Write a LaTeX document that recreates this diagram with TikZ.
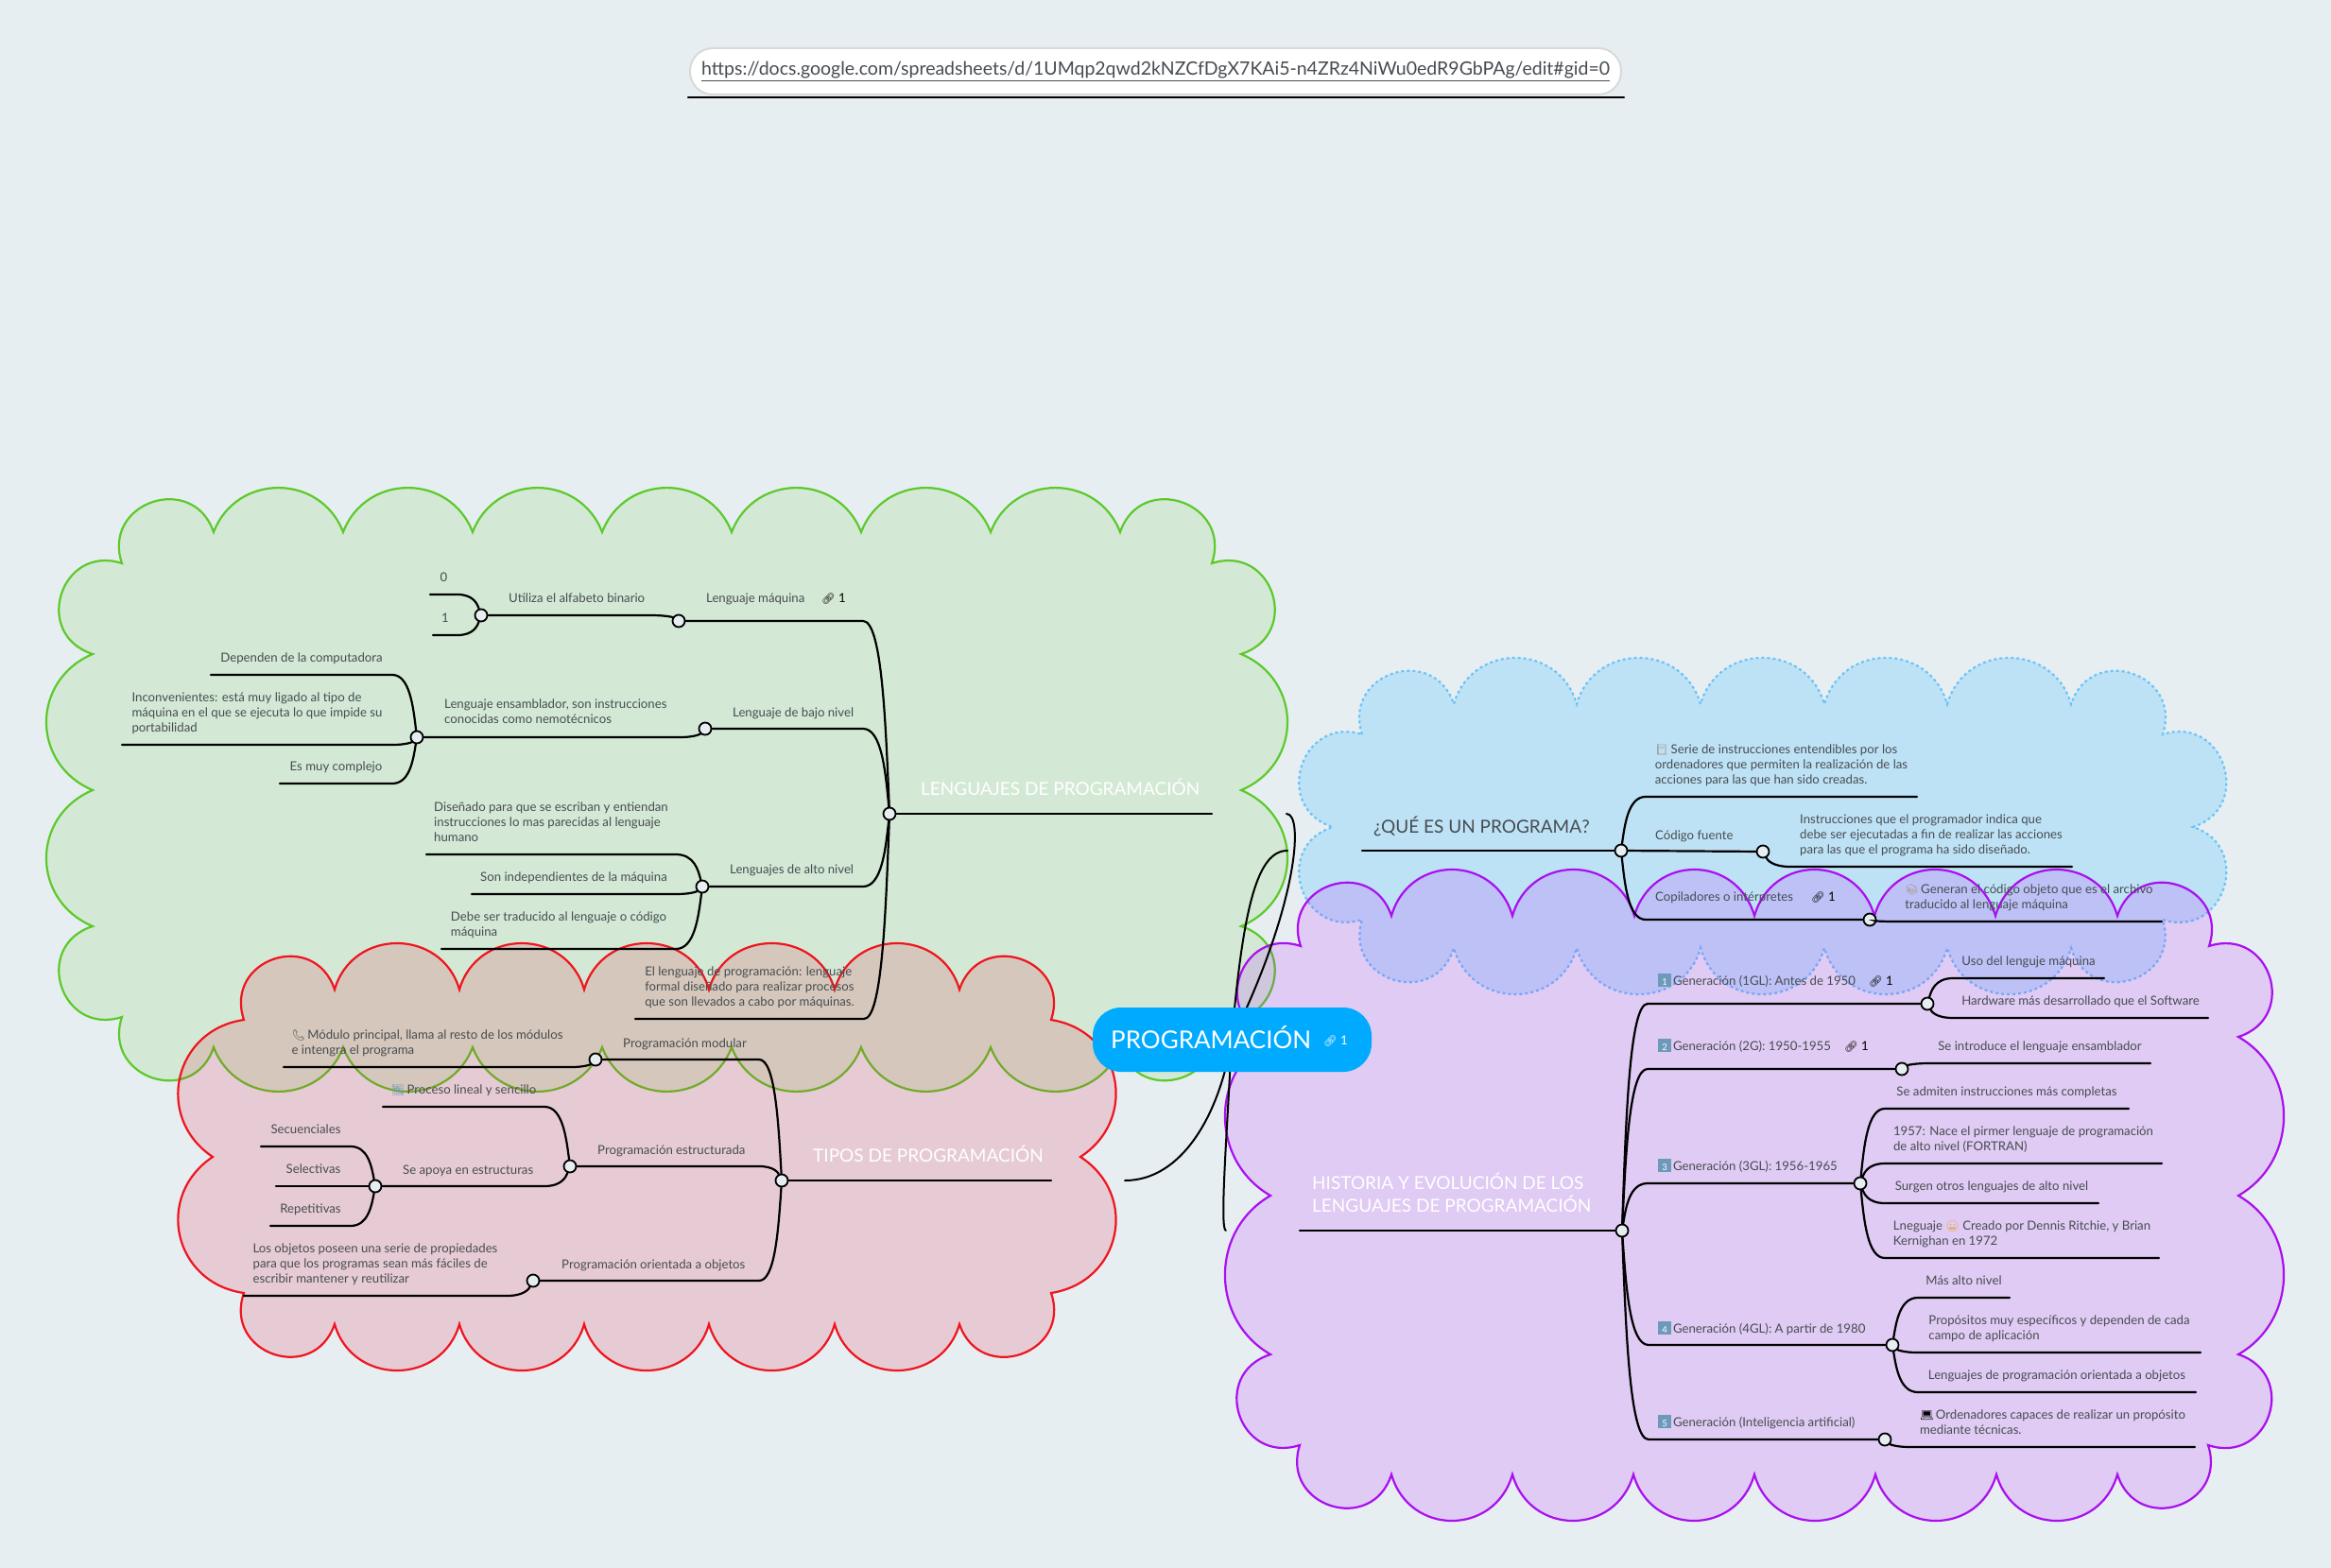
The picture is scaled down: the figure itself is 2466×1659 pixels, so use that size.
\documentclass[tikz,border=0pt]{standalone}
\usepackage{fontspec}
\setmainfont{Lato}
\newfontfamily\emojifont{Noto Emoji}
\usetikzlibrary{calc}

\definecolor{bgcol}{HTML}{E6EEF2}
\definecolor{inkcol}{HTML}{474C52}
\definecolor{greencol}{HTML}{5DC92A}
\definecolor{greenfill}{HTML}{67D331}
\definecolor{redcol}{HTML}{F0141E}
\definecolor{redfill}{HTML}{E6052B}
\definecolor{bluecol}{HTML}{6CC4F8}
\definecolor{bluefill}{HTML}{64C9FF}
\definecolor{purplecol}{HTML}{AA0FF0}
\definecolor{purplefill}{HTML}{B905FF}
\definecolor{centercol}{HTML}{00AAFF}
\definecolor{keycol}{HTML}{6E9ABA}
\definecolor{facecol}{HTML}{E8A02D}
\definecolor{tancol}{HTML}{A89F94}

\setlength{\fboxsep}{1.6pt}
\newcommand{\keycap}[1]{\colorbox{keycol}{\makebox[10.4pt]{\rule{0pt}{10pt}\fontsize{9.5}{9.5}\selectfont\color{white}#1}}}
\newcommand{\emo}[2][inkcol]{{\fontsize{11.5}{11.5}\emojifont\color{#1}#2}}
\newcommand{\chain}{\emo[black]{🔗}}

\tikzset{
    x=1pt, y=-1pt,
    link/.style={draw=black, line width=2.2pt, line cap=round},
    hook/.style={to path={.. controls ($(\tikztostart |- \tikztotarget)!.3!(\tikztotarget)!.5!(\tikztostart)$) and ($(\tikztostart |- \tikztotarget)!.3!(\tikztotarget)$) .. (\tikztotarget)}},
    dot/.style={circle, draw=black, fill=bgcol, line width=1.8pt, inner sep=0pt, minimum size=13pt},
    label/.style={anchor=base west, inner sep=0pt, text=inkcol, align=left, font=\fontsize{13.2}{16}\selectfont},
    leaf/.style={anchor=south west, inner xsep=0pt, inner ysep=0pt, outer sep=0pt, text depth=14pt, text=inkcol, align=left, font=\fontsize{13.2}{16}\selectfont},
    count/.style={label, text=black},
    title/.style={anchor=base west, inner sep=0pt, text=white, align=left, font=\fontsize{19}{24}\selectfont},
    puffmid/.style={bend left=69, distance=67pt},
    puffnar/.style={bend left=74, distance=68pt},
    puffwide/.style={bend left=67, distance=71pt},
    puffred/.style={bend left=69, distance=75pt},
    puffflat/.style={bend left=60, distance=74pt},
    puffend/.style={bend left=90, distance=68pt},
    cloudline/.style={line width=2.2pt, fill opacity=.15}
}

\begin{document}
\begin{tikzpicture}
    \useasboundingbox (0,0) rectangle (2466,1659);
    \fill[bgcol] (0,0) rectangle (2466,1659);

    % clouds
    \draw[cloudline, draw=greencol, fill=greenfill] (129,596)
        to[puffend] (226,563) to[puffmid] (363,563) to[puffmid] (500,563) to[puffmid] (637,563)
        to[puffmid] (774,563) to[puffmid] (911,563) to[puffmid] (1048,563) to[puffmid] (1185,563)
        to[puffend] (1282,596) to[puffend] (1313,692) to[puffwide] (1313,836) to[puffwide] (1313,980)
        to[puffend] (1282,1076) to[puffend] (1185,1108) to[puffmid] (1048,1108) to[puffmid] (911,1108)
        to[puffmid] (774,1108) to[puffmid] (637,1108) to[puffmid] (500,1108) to[puffmid] (363,1108)
        to[puffmid] (226,1108) to[puffend] (129,1076) to[puffend] (98,980) to[puffwide] (98,836)
        to[puffwide] (98,692) to[puffend] (129,596) -- cycle;
    \draw[cloudline, draw=redcol, fill=redfill] (258,1079)
        to[puffend] (354,1047) to[puffnar] (486,1047) to[puffnar] (618,1047) to[puffnar] (750,1047)
        to[puffnar] (883,1047) to[puffnar] (1015,1047) to[puffend] (1112,1079) to[puffred] (1143,1224)
        to[puffred] (1112,1368) to[puffend] (1015,1401) to[puffnar] (883,1401) to[puffnar] (750,1401)
        to[puffnar] (618,1401) to[puffnar] (486,1401) to[puffnar] (354,1401) to[puffend] (258,1368)
        to[puffred] (225,1224) to[puffred] (258,1079) -- cycle;
    \draw[cloudline, draw=bluecol, fill=bluefill, fill opacity=.3, dashed] (1441,777)
        to[puffend] (1538,745) to[puffnar] (1668,745) to[puffnar] (1799,745) to[puffnar] (1930,745)
        to[puffnar] (2060,745) to[puffnar] (2191,745) to[puffend] (2288,777) to[puffend] (2320,875)
        to[puffend] (2288,973) to[puffend] (2191,1003) to[puffnar] (2060,1003) to[puffnar] (1930,1003)
        to[puffnar] (1799,1003) to[puffnar] (1668,1003) to[puffnar] (1538,1003) to[puffend] (1441,973)
        to[puffend] (1410,875) to[puffend] (1441,777) -- cycle;
    \draw[cloudline, draw=purplecol, fill=purplefill] (1376,1001)
        to[puffend] (1472,969) to[puffnar] (1600,969) to[puffnar] (1729,969) to[puffnar] (1856,969)
        to[puffnar] (1983,969) to[puffnar] (2111,969) to[puffnar] (2240,969) to[puffend] (2337,1001)
        to[puffend] (2368,1097) to[puffflat] (2368,1265) to[puffflat] (2368,1433) to[puffend] (2336,1529)
        to[puffend] (2240,1560) to[puffnar] (2112,1560) to[puffnar] (1984,1560) to[puffnar] (1856,1560)
        to[puffnar] (1728,1560) to[puffnar] (1600,1560) to[puffnar] (1472,1560) to[puffend] (1375,1529)
        to[puffend] (1344,1433) to[puffflat] (1344,1265) to[puffflat] (1344,1097) to[puffend] (1376,1001) -- cycle;

    % link at the top
    \node[draw=black!15, fill=white, line width=2pt, rounded corners=24pt, minimum width=985pt, minimum height=49pt, inner sep=0pt,
        text=inkcol, font=\fontsize{19.5}{19.5}\selectfont] (url) at (1222.5,75.5)
        {\raisebox{-5pt}{\underline{https://docs.google.com/spreadsheets/d/1UMqp2qwd2kNZCfDgX7KAi5-n4ZRz4NiWu0edR9GbPAg/edit\#gid=0}}};
    \coordinate (url_l) at (728,103);
    \coordinate (url_r) at (1718,103);
    \draw[link] (url_l) -- (url_r);

    % lenguajes
    \node[dot] (j_len) at (941,861) {};
    \node[dot] (j_maq) at (718,657) {};
    \node[dot] (j_alf) at (509,651) {};
    \node[dot] (j_baj) at (746,771) {};
    \node[dot] (j_ens) at (441,780) {};
    \node[dot] (j_alt) at (743,938) {};

    \node[title] (t_len) at (974,841) {LENGUAJES DE PROGRAMACIÓN};
    \node[label] (t_maq) at (747,637) {Lenguaje máquina};
    \node[count] (i_maq) at (869,637) {\chain\ 1};
    \node[label] (t_alf) at (538,637) {Utiliza el alfabeto binario};
    \node[label] (t_baj) at (775,758) {Lenguaje de bajo nivel};
    \node[label] (t_ens) at (470,765) {Lenguaje ensamblador, son instrucciones\\conocidas como nemotécnicos};
    \node[label] (t_alt) at (772,924) {Lenguajes de alto nivel};

    \node[leaf, minimum width=29pt] (l_cero) at (455,629) {0};
    \node[leaf, minimum width=26pt] (l_uno) at (458,672) {1};
    \node[leaf, minimum width=192pt] (l_dep) at (223,714) {Dependen de la computadora};
    \node[leaf, minimum width=286pt] (l_inc) at (129,788) {Inconvenientes: está muy ligado al tipo de\\máquina en el que se ejecuta lo que impide su\\portabilidad};
    \node[leaf, minimum width=119pt] (l_com) at (296,829) {Es muy complejo};
    \node[leaf, minimum width=264pt] (l_dis) at (451,904) {Diseñado para que se escriban y entiendan\\instrucciones lo mas parecidas al lenguaje\\humano};
    \node[leaf, minimum width=216pt] (l_ind) at (499,946) {Son independientes de la máquina};
    \node[leaf, minimum width=248pt] (l_tra) at (467,1004) {Debe ser traducido al lenguaje o código\\máquina};
    \node[leaf, minimum width=242pt] (l_form) at (672,1078) {El lenguaje de programación: lenguaje\\formal diseñado para realizar procesos\\que son llevados a cabo por máquinas.};

    \coordinate (e_len) at (1282,861);
    \coordinate (b_maq) at (913,657);
    \coordinate (b_alf) at (688,651);
    \coordinate (b_baj) at (913,771);
    \coordinate (b_ens) at (719,780);
    \coordinate (b_alt) at (913,938);

    \draw[link] (j_len) -- (e_len);
    \draw[link] (j_len) to[hook] (b_maq) -- (j_maq);
    \draw[link] (j_maq) to[hook] (b_alf) -- (j_alf);
    \draw[link] (j_alf) to[hook] (l_cero.south east) -- (l_cero.south west);
    \draw[link] (j_alf) to[hook] (l_uno.south east) -- (l_uno.south west);
    \draw[link] (j_len) to[hook] (b_baj) -- (j_baj);
    \draw[link] (j_baj) to[hook] (b_ens) -- (j_ens);
    \draw[link] (j_ens) to[hook] (l_dep.south east) -- (l_dep.south west);
    \draw[link] (j_ens) to[hook] (l_inc.south east) -- (l_inc.south west);
    \draw[link] (j_ens) to[hook] (l_com.south east) -- (l_com.south west);
    \draw[link] (j_len) to[hook] (b_alt) -- (j_alt);
    \draw[link] (j_alt) to[hook] (l_dis.south east) -- (l_dis.south west);
    \draw[link] (j_alt) to[hook] (l_ind.south east) -- (l_ind.south west);
    \draw[link] (j_alt) to[hook] (l_tra.south east) -- (l_tra.south west);
    \draw[link] (j_len) to[hook] (l_form.south east) -- (l_form.south west);

    % tipos
    \node[dot] (j_tip) at (827,1249) {};
    \node[dot] (j_mod) at (630,1121) {};
    \node[dot] (j_est) at (603,1234) {};
    \node[dot] (j_apo) at (397,1255) {};
    \node[dot] (j_obj) at (564,1355) {};

    \node[title] (t_tip) at (860,1229) {TIPOS DE PROGRAMACIÓN};
    \node[label] (t_mod) at (659,1108) {Programación modular};
    \node[label] (t_est) at (632,1221) {Programación estructurada};
    \node[label] (t_apo) at (426,1242) {Se apoya en estructuras};
    \node[label] (t_obj) at (594,1342) {Programación orientada a objetos};

    \node[leaf, minimum width=304pt] (l_pri) at (300,1129) {\emo{📞}\,Módulo principal, llama al resto de los módulos\\e intengra el programa};
    \node[leaf, minimum width=171pt] (l_lin) at (405,1171) {\emo[keycol]{📉}\,Proceso lineal y sencillo};
    \node[leaf, minimum width=95pt] (l_sec) at (276,1213) {Secuenciales};
    \node[leaf, minimum width=79pt] (l_sel) at (292,1255) {Selectivas};
    \node[leaf, minimum width=85pt] (l_rep) at (286,1297) {Repetitivas};
    \node[leaf, minimum width=278pt] (l_pro) at (258,1371) {Los objetos poseen una serie de propiedades\\para que los programas sean más fáciles de\\escribir mantener y reutilizar};

    \coordinate (e_tip) at (1112,1249);
    \coordinate (b_mod) at (803,1121);
    \coordinate (b_est) at (803,1234);
    \coordinate (b_apo) at (576,1255);
    \coordinate (b_obj) at (803,1355);

    \draw[link] (j_tip) -- (e_tip);
    \draw[link] (j_tip) to[hook] (b_mod) -- (j_mod);
    \draw[link] (j_mod) to[hook] (l_pri.south east) -- (l_pri.south west);
    \draw[link] (j_tip) to[hook] (b_est) -- (j_est);
    \draw[link] (j_est) to[hook] (l_lin.south east) -- (l_lin.south west);
    \draw[link] (j_est) to[hook] (b_apo) -- (j_apo);
    \draw[link] (j_apo) to[hook] (l_sec.south east) -- (l_sec.south west);
    \draw[link] (j_apo) -- (l_sel.south east) -- (l_sel.south west);
    \draw[link] (j_apo) to[hook] (l_rep.south east) -- (l_rep.south west);
    \draw[link] (j_tip) to[hook] (b_obj) -- (j_obj);
    \draw[link] (j_obj) to[hook] (l_pro.south east) -- (l_pro.south west);

    % programa
    \node[dot] (j_que) at (1715,900) {};
    \node[dot] (j_cod) at (1865,901) {};
    \node[dot] (j_cop) at (1978,973) {};

    \node[title, text=inkcol] (t_que) at (1453,881) {¿QUÉ ES UN PROGRAMA?};
    \node[label] (t_cod) at (1751,888) {Código fuente};
    \node[label] (t_cop) at (1751,953) {Copiladores o intérpretes};
    \node[count] (i_cop) at (1916,953) {\chain\ 1};

    \node[leaf, minimum width=287pt] (l_ser) at (1741,843) {\emo[tancol]{📔}\,Serie de instrucciones entendibles por los\\ordenadores que permiten la realización de las\\acciones para las que han sido creadas.};
    \node[leaf, minimum width=298pt] (l_ins) at (1894,917) {Instrucciones que el programador indica que\\debe ser ejecutadas a fin de realizar las acciones\\para las que el programa ha sido diseñado.};
    \node[leaf, minimum width=281pt] (l_gen) at (2006,975) {\emo[tancol]{📚}\,Generan el código objeto que es el archivo\\traducido al lenguaje máquina};

    \coordinate (e_que) at (1441,900);
    \coordinate (b_cop) at (1741,973);

    \draw[link] (j_que) -- (e_que);
    \draw[link] (j_que) to[hook] (l_ser.south west) -- (l_ser.south east);
    \draw[link] (j_que) -- (j_cod);
    \draw[link] (j_cod) to[hook] (l_ins.south west) -- (l_ins.south east);
    \draw[link] (j_que) to[hook] (b_cop) -- (j_cop);
    \draw[link] (j_cop) to[hook] (l_gen.south west) -- (l_gen.south east);

    % historia
    \node[dot] (j_his) at (1716,1302) {};
    \node[dot] (j_g1) at (2039,1062) {};
    \node[dot] (j_g2) at (2012,1131) {};
    \node[dot] (j_g3) at (1968,1252) {};
    \node[dot] (j_g4) at (2002,1423) {};
    \node[dot] (j_g5) at (1994,1523) {};

    \node[title] (t_his) at (1388,1282) {HISTORIA Y EVOLUCIÓN DE LOS\\LENGUAJES DE PROGRAMACIÓN};
    \node[label] (t_g1) at (1754,1042) {\keycap{1}\,Generación (1GL): Antes de 1950};
    \node[count] (i_g1) at (1977,1042) {\chain\ 1};
    \node[label] (t_g2) at (1754,1111) {\keycap{2}\,Generación (2G): 1950-1955};
    \node[count] (i_g2) at (1951,1111) {\chain\ 1};
    \node[label] (t_g3) at (1754,1238) {\keycap{3}\,Generación (3GL): 1956-1965};
    \node[label] (t_g4) at (1754,1410) {\keycap{4}\,Generación (4GL): A partir de 1980};
    \node[label] (t_g5) at (1754,1509) {\keycap{5}\,Generación (Inteligencia artificial)};

    \node[leaf, minimum width=160pt] (l_uso) at (2066,1035) {Uso del lenguje máquina};
    \node[leaf, minimum width=270pt] (l_har) at (2066,1077) {Hardware más desarrollado que el Software};
    \node[leaf, minimum width=234pt] (l_int) at (2041,1125) {Se introduce el lenguaje ensamblador};
    \node[leaf, minimum width=258pt] (l_adm) at (1994,1173) {Se admiten instrucciones más completas};
    \node[leaf, minimum width=293pt] (l_nac) at (1994,1231) {1957: Nace el pirmer lenguaje de programación\\de alto nivel (FORTRAN)};
    \node[leaf, minimum width=226pt] (l_sur) at (1994,1273) {Surgen otros lenguajes de alto nivel};
    \node[leaf, minimum width=290pt] (l_cre) at (1994,1331) {Lneguaje \emo[facecol]{😀} Creado por Dennis Ritchie, y Brian\\Kernighan en 1972};
    \node[leaf, minimum width=97pt] (l_mas) at (2029,1373) {Más alto nivel};
    \node[leaf, minimum width=299pt] (l_esp) at (2029,1431) {Propósitos muy específicos y dependen de cada\\campo de aplicación};
    \node[leaf, minimum width=294pt] (l_ori) at (2029,1473) {Lenguajes de programación orientada a objetos};
    \node[leaf, minimum width=301pt] (l_ord) at (2021,1531) {\emo[black]{💻}\,Ordenadores capaces de realizar un propósito\\mediante técnicas.};

    \coordinate (e_his) at (1375,1302);
    \coordinate (b_g1) at (1743,1062);
    \coordinate (b_g2) at (1743,1131);
    \coordinate (b_g3) at (1743,1252);
    \coordinate (b_g4) at (1744,1423);
    \coordinate (b_g5) at (1744,1523);

    \draw[link] (j_his) -- (e_his);
    \draw[link] (j_his) to[hook] (b_g1) -- (j_g1);
    \draw[link] (j_g1) to[hook] (l_uso.south west) -- (l_uso.south east);
    \draw[link] (j_g1) to[hook] (l_har.south west) -- (l_har.south east);
    \draw[link] (j_his) to[hook] (b_g2) -- (j_g2);
    \draw[link] (j_g2) to[hook] (l_int.south west) -- (l_int.south east);
    \draw[link] (j_his) to[hook] (b_g3) -- (j_g3);
    \draw[link] (j_g3) to[hook] (l_adm.south west) -- (l_adm.south east);
    \draw[link] (j_g3) to[hook] (l_nac.south west) -- (l_nac.south east);
    \draw[link] (j_g3) to[hook] (l_sur.south west) -- (l_sur.south east);
    \draw[link] (j_g3) to[hook] (l_cre.south west) -- (l_cre.south east);
    \draw[link] (j_his) to[hook] (b_g4) -- (j_g4);
    \draw[link] (j_g4) to[hook] (l_mas.south west) -- (l_mas.south east);
    \draw[link] (j_g4) to[hook] (l_esp.south west) -- (l_esp.south east);
    \draw[link] (j_g4) to[hook] (l_ori.south west) -- (l_ori.south east);
    \draw[link] (j_his) to[hook] (b_g5) -- (j_g5);
    \draw[link] (j_g5) to[hook] (l_ord.south west) -- (l_ord.south east);

    % centro
    \coordinate (f_len) at (1361,861);
    \coordinate (f_que) at (1362,900);
    \coordinate (f_tip) at (1190,1249);
    \coordinate (f_his) at (1297,1302);
    \coordinate (c_mid) at (1303,1100);
    \draw[link, line width=2pt] (c_mid) .. controls (1372,960) and (1380,861) .. (f_len);
    \draw[link, line width=2pt] (c_mid) .. controls (1315,960) and (1330,900) .. (f_que);
    \draw[link, line width=2pt] (c_mid) .. controls (1290,1180) and (1250,1249) .. (f_tip);
    \draw[link, line width=2pt] (c_mid) .. controls (1298,1200) and (1290,1302) .. (f_his);

    \node[fill=centercol, rounded corners=30pt, minimum width=295pt, minimum height=68pt, inner sep=0pt] (prog) at (1303.5,1100) {};
    \node[title, text=white, font=\fontsize{26}{26}\selectfont] (t_prog) at (1175,1109) {PROGRAMACIÓN};
    \node[label, text=white] (i_prog) at (1400,1105) {\emo[white]{🔗}\ 1};
\end{tikzpicture}
\end{document}
